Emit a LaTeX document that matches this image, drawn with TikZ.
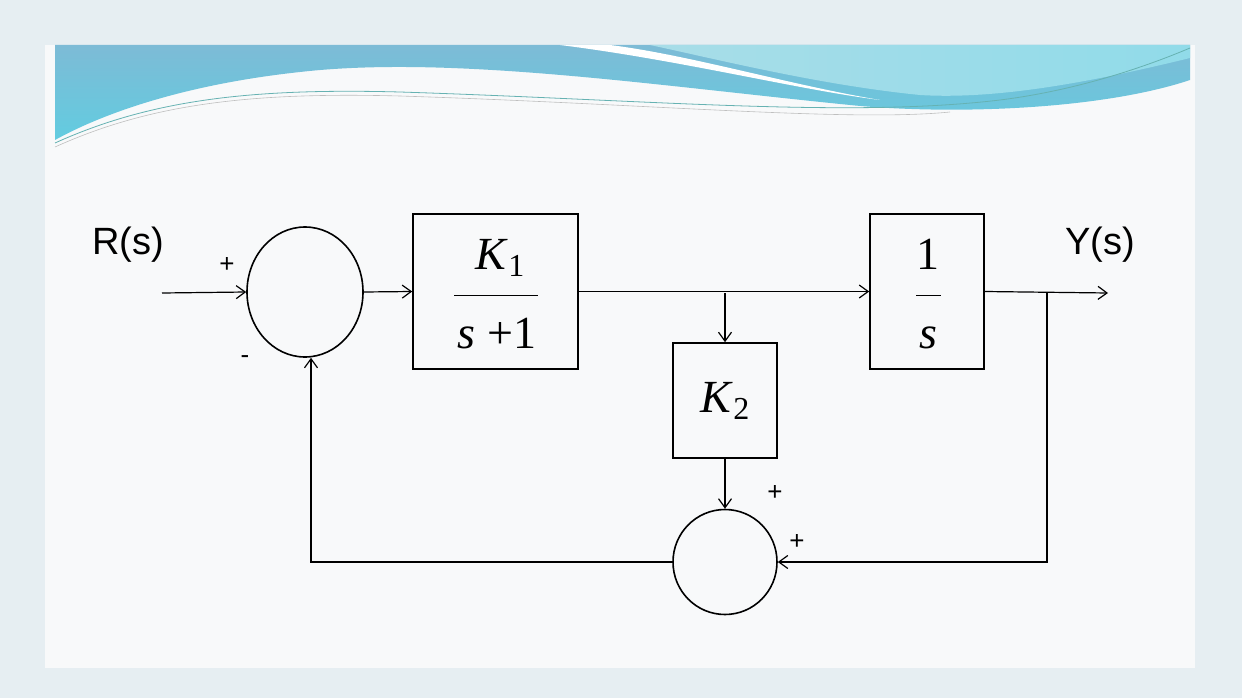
\documentclass[tikz,border=0pt]{standalone}
\usepackage{fontspec}
\setmainfont{Liberation Serif}
\newfontfamily\lsans{Liberation Sans}
\usetikzlibrary{arrows.meta,shapes.geometric}
\definecolor{bgout}{HTML}{E6EEF2}
\definecolor{slide}{HTML}{F8F9FA}
\definecolor{wave1}{HTML}{62CCE0}
\definecolor{wave0}{HTML}{7DBBD6}
\definecolor{wave2}{HTML}{A8DDE8}
\definecolor{wave3}{HTML}{4BB3DA}
\tikzset{
  blk/.style={draw, line width=1.6pt, minimum width=165pt, minimum height=155pt, inner sep=0pt},
  sumj/.style={draw, line width=1.6pt, ellipse, minimum width=116pt, minimum height=130pt, inner sep=0pt},
  sig/.style={line width=1.2pt, -{Straight Barb[length=9pt,width=13pt,line width=1.2pt]}},
  sgn/.style={font=\lsans\fontsize{26}{26}\selectfont},
  lbl/.style={font=\lsans\fontsize{38}{38}\selectfont},
  mth/.style={font=\fontsize{46}{46}\selectfont, inner sep=0pt},
  bar/.style={line width=1pt}
}
\begin{document}
\begin{tikzpicture}[x=1pt,y=-1pt]
\useasboundingbox (0,0) rectangle (1242,698);
\fill[bgout] (0,0) rectangle (1242,698);
\fill[slide] (45,45) rectangle (1195,668);
% banner
\shade[top color=wave0, bottom color=wave1] (55,45) -- (1190,45) -- (1190,80)
  .. controls (1100,110) and (950,115) .. (850,105)
  .. controls (650,85) and (450,55) .. (300,72)
  .. controls (180,85) and (100,115) .. (55,140) -- cycle;
\shade[left color=wave2, right color=wave1!70!white] (650,45) -- (1190,45) -- (1190,58)
  .. controls (1100,80) and (1000,100) .. (920,95)
  .. controls (820,85) and (720,60) .. (650,45) -- cycle;
\fill[white] (560,45) .. controls (680,60) and (800,90) .. (880,100) .. controls (790,85) and (690,55) .. (610,45) -- cycle;
\draw[teal!60, line width=0.8pt] (55,143) .. controls (150,100) and (250,88) .. (400,92) .. controls (650,100) and (850,118) .. (1000,100) .. controls (1080,90) and (1150,65) .. (1190,48);
\draw[gray!50, line width=0.6pt] (55,147) .. controls (150,104) and (250,92) .. (400,96) .. controls (650,104) and (850,122) .. (950,112);
% nodes
\node[sumj] (s1) at (305,292) {};
\node[blk] (b1) at (495.5,291.5) {};
\node[mth] (n1) at (500,258) {\textit{K}\raisebox{-7pt}{\fontsize{32}{32}\selectfont 1}};
\node[mth] (d1) at (497,334) {\textit{s} +1};
\draw[bar] (454,295) -- (538,295);
\node[blk, minimum width=114pt] (b2) at (927,291.5) {};
\node[mth] (n2) at (928,254) {1};
\node[mth] (d2) at (928,338) {\textit{s}};
\draw[bar] (916,295) -- (941,295);
\node[blk, minimum width=104pt, minimum height=115pt] (b3) at (725,400.5) {};
\node[mth] (f3) at (b3.center) {\textit{K}\raisebox{-7pt}{\fontsize{32}{32}\selectfont 2}};
\node[sumj, minimum width=104pt, minimum height=105pt] (s2) at (725,562) {};
\node[lbl] (r) at (128,245) {R(s)};
\node[lbl] (y) at (1100,245) {Y(s)};
\node[sgn] (p1) at (227,265) {+};
\node[sgn] (m1) at (245,360) {-};
\node[sgn] (p2) at (775,493) {+};
\node[sgn] (p3) at (797,542) {+};
\coordinate (in) at (162,293);
\coordinate (out) at (1108,293);
\coordinate (br1) at (725,293);
\coordinate (br2) at (1047,293);
\coordinate (c1) at (1047,562);
\coordinate (c2) at (311,562);
% connectors
\draw[sig] (in) -- (s1.west);
\draw[sig] (s1.east) -- (b1.west);
\draw[sig] (b1.east) -- (b2.west);
\draw[sig] (br1) -- (b3.north);
\draw[sig] (b3.south) -- (s2.north);
\draw[sig] (b2.east) -- (out);
\draw[sig] (br2) -- (c1) -- (s2.east);
\draw[sig] (s2.west) -- (c2) -- (s1.south -| c2);
\end{tikzpicture}
\end{document}
